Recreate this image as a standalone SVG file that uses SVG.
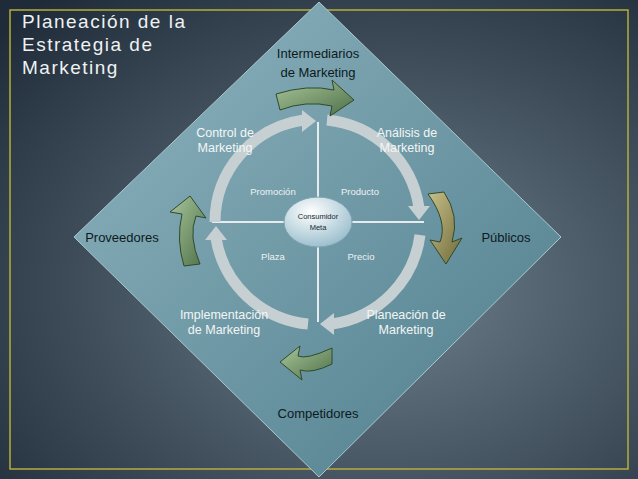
<svg xmlns="http://www.w3.org/2000/svg" width="638" height="479" viewBox="0 0 638 479">
<defs>
<radialGradient id="bg" cx="0.6" cy="0.6" r="0.8"><stop offset="0" stop-color="#6e7f8c"/><stop offset="1" stop-color="#1f2b38"/></radialGradient>
<linearGradient id="dia" x1="0" y1="0" x2="1" y2="1"><stop offset="0" stop-color="#8fb5c0"/><stop offset="1" stop-color="#4f7d8b"/></linearGradient>
<radialGradient id="ell" cx="0.4" cy="0.3" r="0.8"><stop offset="0" stop-color="#ffffff"/><stop offset="1" stop-color="#8fb7c8"/></radialGradient>
<linearGradient id="gr" x1="0" y1="0" x2="1" y2="1"><stop offset="0" stop-color="#a9c59a"/><stop offset="1" stop-color="#4e7048"/></linearGradient>
<linearGradient id="ol" x1="0" y1="0" x2="1" y2="1"><stop offset="0" stop-color="#c9c08a"/><stop offset="1" stop-color="#6e6a3a"/></linearGradient>
</defs>
<style>
.t{font-family:"Liberation Sans",Arial,sans-serif;fill:#0d1a22;font-size:13px;text-anchor:middle}
.w{font-family:"Liberation Sans",Arial,sans-serif;fill:#f4f6f6;font-size:12.5px;text-anchor:middle}
.s{font-family:"Liberation Sans",Arial,sans-serif;fill:#eef2f2;font-size:9.5px;text-anchor:middle}
.h{font-family:"Liberation Sans",Arial,sans-serif;fill:#eef2f2;font-size:19px;letter-spacing:1.5px}
.ring{fill:none;stroke:#c6d0d3;stroke-width:11}
.head{fill:#c6d0d3}
.ga{stroke:#2f4a2c;stroke-width:1}
</style>
<rect width="638" height="479" fill="url(#bg)"/>
<rect x="10" y="10" width="618" height="459" fill="none" stroke="#b6ad3c" stroke-width="1.5"/>
<text class="h" x="22" y="28">Planeación de la</text>
<text class="h" x="22" y="51">Estrategia de</text>
<text class="h" x="22" y="74">Marketing</text>
<polygon points="319,2 561,237 319,477 74,237" fill="url(#dia)" stroke="#a9c8d0" stroke-width="1"/>
<g id="connectors">
<line x1="318" y1="122" x2="318" y2="322" stroke="#e6ecee" stroke-width="2"/>
<line x1="212" y1="222" x2="424" y2="222" stroke="#e6ecee" stroke-width="2"/>
<path class="ring" d="M215,222 A103,103 0 0 1 304,120"/>
<polygon class="head" points="302,110 316,121 302,132"/>
<path class="ring" d="M327,120 A103,103 0 0 1 419,208"/>
<polygon class="head" points="408,206 419,220 430,206"/>
<path class="ring" d="M420,235 A103,103 0 0 1 332,324"/>
<polygon class="head" points="334,313 320,324 334,335"/>
<path class="ring" d="M308,324 A103,103 0 0 1 216,238"/>
<polygon class="head" points="205,240 216,226 227,240"/>
<path class="ga" fill="url(#gr)" d="M276,94 Q308,84 334,90 L332,80 L354,100 L330,116 L332,106 Q306,100 280,110 Z"/>
<path class="ga" fill="url(#ol)" d="M428,194 Q448,222 440,242 L430,240 L446,264 L462,238 L452,242 Q460,216 444,192 Z"/>
<path class="ga" fill="url(#gr)" d="M332,348 Q306,360 298,356 L300,346 L280,362 L302,380 L300,370 Q312,374 332,364 Z"/>
<path class="ga" fill="url(#gr)" d="M200,264 Q188,236 196,216 L206,218 L190,196 L170,212 L182,214 Q176,240 184,266 Z"/>
</g>
<g id="center"><ellipse cx="318" cy="222" rx="34" ry="25" fill="url(#ell)" stroke="#7ea3b2"/>
<text x="318" y="219" font-family="'Liberation Sans',Arial,sans-serif" font-size="7.5" text-anchor="middle" fill="#1a2a30">Consumidor</text>
<text x="318" y="230" font-family="'Liberation Sans',Arial,sans-serif" font-size="7.5" text-anchor="middle" fill="#1a2a30">Meta</text></g>
<g id="quads"><text class="s" x="273" y="195">Promoción</text><text class="s" x="360" y="195">Producto</text><text class="s" x="273" y="260">Plaza</text><text class="s" x="361" y="260">Precio</text></g>
<g id="intermediarios"><text class="t" x="318" y="58">Intermediarios</text><text class="t" x="318" y="77">de Marketing</text></g>
<g id="analisis"><text class="w" x="407" y="137">Análisis de</text><text class="w" x="407" y="152">Marketing</text></g>
<g id="control"><text class="w" x="225" y="137">Control de</text><text class="w" x="225" y="152">Marketing</text></g>
<g id="planeacion"><text class="w" x="406" y="319">Planeación de</text><text class="w" x="406" y="334">Marketing</text></g>
<g id="implementacion"><text class="w" x="224" y="319">Implementación</text><text class="w" x="224" y="334">de Marketing</text></g>
<g id="proveedores"><text class="t" x="122" y="242">Proveedores</text></g>
<g id="publicos"><text class="t" x="506" y="242">Públicos</text></g>
<g id="competidores"><text class="t" x="318" y="418">Competidores</text></g>
</svg>
